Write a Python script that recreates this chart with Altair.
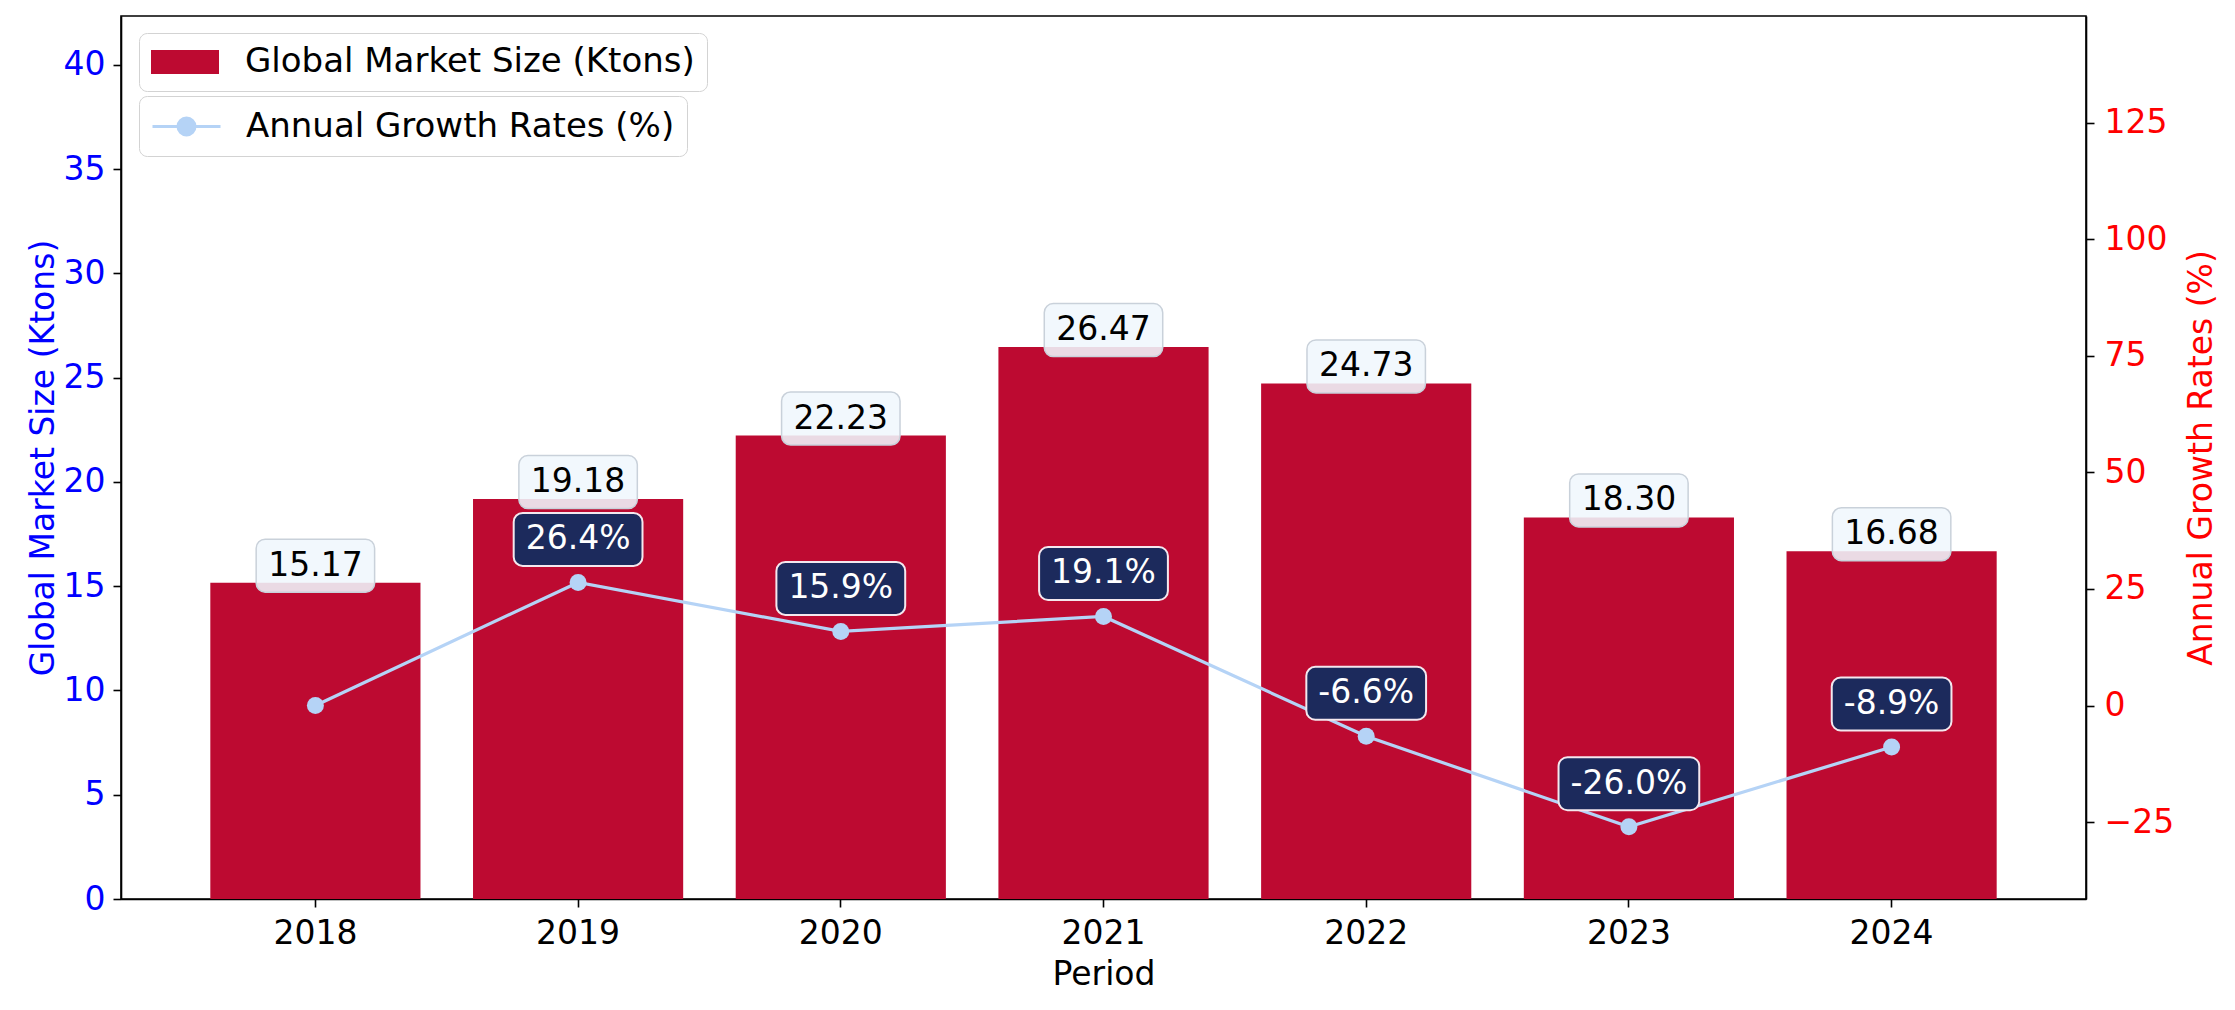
import altair as alt
import pandas as pd

# ---------------- data ----------------
periods = ["2018", "2019", "2020", "2021", "2022", "2023", "2024"]
market_size = [15.17, 19.18, 22.23, 26.47, 24.73, 18.30, 16.68]
growth_rate = [0.0, 26.4, 15.9, 19.1, -6.6, -26.0, -8.9]
size_labels = ["15.17", "19.18", "22.23", "26.47", "24.73", "18.30", "16.68"]
growth_labels = ["", "26.4%", "15.9%", "19.1%", "-6.6%", "-26.0%", "-8.9%"]

BAR_SERIES = "Global Market Size (Ktons)"
LINE_SERIES = "Annual Growth Rates (%)"

# ---------------- style ----------------
FONT = "DejaVu Sans"
FS = 33
LFS = 34
RED = "#bd0a31"
BLUE_LINE = "#b5d3f6"
NAVY = "#1c2a5c"
BOX_FILL = "#f0f7fd"
BOX_EDGE = "#c9d1da"

# DejaVu Sans advance widths (em) for label boxes
CW = {"0": .636, "1": .636, "2": .636, "3": .636, "4": .636, "5": .636,
      "6": .636, "7": .636, "8": .636, "9": .636, ".": .318, "%": .950, "-": .361}


def text_w(s):
    return sum(CW.get(c, .6) for c in s) * FS


def rrect(w, h, r):
    # rounded rectangle path in pixel units (used with symbol size 4 -> scale 1)
    a, b = w / 2, h / 2
    return (f"M{-a + r},{-b}H{a - r}A{r},{r} 0 0 1 {a},{-b + r}V{b - r}"
            f"A{r},{r} 0 0 1 {a - r},{b}H{-a + r}A{r},{r} 0 0 1 {-a},{b - r}"
            f"V{-b + r}A{r},{r} 0 0 1 {-a + r},{-b}Z")


BOX_H = 53
PADX = 12
size_box = rrect(text_w("00.00") + 2 * PADX, BOX_H, 9)
g_nonempty = [g for g in growth_labels if g]
g_paths = [rrect(text_w(g) + 2 * PADX, BOX_H, 9) for g in g_nonempty]

# legend symbols (symbolSize 1156 -> scale 17)
LEG_RECT = "M-1,-0.706H3V0.706H-1Z"
LEG_LINE = "M-1,0H3M1.5,0A0.5,0.5 0 1 1 0.5,0A0.5,0.5 0 1 1 1.5,0Z"

df = pd.DataFrame({
    "period": periods,
    "size": market_size,
    "growth": growth_rate,
    "slabel": size_labels,
    "glabel": growth_labels,
    "bar_series": [BAR_SERIES] * len(periods),
    "line_series": [LINE_SERIES] * len(periods),
})

x_enc = alt.X(
    "period:N", sort=periods,
    scale=alt.Scale(paddingInner=0.2, paddingOuter=0.34),
    axis=alt.Axis(title="Period", labelAngle=0, labelFontSize=FS, titleFontSize=FS,
                  labelColor="black", titleColor="black", tickColor="black",
                  domainColor="black", tickSize=8, tickWidth=1.6, domainWidth=1.6,
                  labelPadding=10, titlePadding=8, titleFontWeight="normal",
                  labelFont=FONT, titleFont=FONT),
)

y_left = alt.Y(
    "size:Q",
    scale=alt.Scale(domain=[0, 42.35], nice=False, zero=False),
    axis=alt.Axis(title=BAR_SERIES, values=[0, 5, 10, 15, 20, 25, 30, 35, 40],
                  labelColor="#0000ff", titleColor="#0000ff", tickColor="black",
                  domainColor="black", labelFontSize=FS, titleFontSize=FS,
                  tickSize=8, tickWidth=1.6, domainWidth=1.6, labelPadding=8,
                  titlePadding=3, grid=False, titleFontWeight="normal",
                  labelFont=FONT, titleFont=FONT),
)

y_right = alt.Y(
    "growth:Q",
    scale=alt.Scale(domain=[-41.5, 147.9], nice=False, zero=False),
    axis=alt.Axis(title=LINE_SERIES, orient="right",
                  values=[-25, 0, 25, 50, 75, 100, 125],
                  labelColor="#ff0000", titleColor="#ff0000", tickColor="black",
                  domainColor="black", labelFontSize=FS, titleFontSize=FS,
                  tickSize=8, tickWidth=1.6, domainWidth=1.6, labelPadding=10,
                  titlePadding=45, titleAngle=270, grid=False,
                  titleFontWeight="normal", labelFont=FONT, titleFont=FONT),
)

leg_common = dict(title=None, orient="none", legendX=18, labelFontSize=LFS,
                  labelFont=FONT, labelColor="black", padding=12, cornerRadius=8,
                  strokeColor="#d3d3d3", fillColor="rgba(255,255,255,0.85)",
                  labelLimit=1000, symbolSize=1156)

bars = alt.Chart().mark_bar().encode(
    x=x_enc, y=y_left,
    color=alt.Color("bar_series:N",
                    scale=alt.Scale(domain=[BAR_SERIES], range=[RED]),
                    legend=alt.Legend(legendY=17, symbolType=LEG_RECT,
                                      symbolStrokeWidth=0, labelOffset=60,
                                      **leg_common)),
)

bar_boxes = alt.Chart().mark_point(
    shape=size_box, size=4, filled=True, fill=BOX_FILL, fillOpacity=0.88,
    stroke=BOX_EDGE, strokeWidth=1.5, yOffset=-17, opacity=1,
).encode(x=x_enc, y=y_left)

bar_text = alt.Chart().mark_text(
    font=FONT, fontSize=FS, color="black", baseline="middle", yOffset=-17,
).encode(x=x_enc, y=y_left, text="slabel:N")

left = alt.layer(bars, bar_boxes, bar_text)

line = alt.Chart().mark_line(color=BLUE_LINE, strokeWidth=3.2).encode(x=x_enc, y=y_right)

points = alt.Chart().mark_point(filled=True, size=289, opacity=1).encode(
    x=x_enc, y=y_right,
    color=alt.Color("line_series:N",
                    scale=alt.Scale(domain=[LINE_SERIES], range=[BLUE_LINE]),
                    legend=alt.Legend(legendY=80, symbolType=LEG_LINE,
                                      symbolStrokeWidth=3,
                                      symbolStrokeColor=BLUE_LINE,
                                      symbolFillColor=BLUE_LINE,
                                      labelOffset=58, **leg_common)),
)

g_boxes = alt.Chart().mark_point(
    size=4, filled=True, fill=NAVY, fillOpacity=1, stroke="#f4e8ee",
    strokeWidth=2, yOffset=-43, opacity=1,
).encode(
    x=x_enc, y=y_right,
    shape=alt.Shape("glabel:N", scale=alt.Scale(domain=g_nonempty, range=g_paths),
                    legend=None),
).transform_filter("datum.glabel != ''")

g_text = alt.Chart().mark_text(
    font=FONT, fontSize=FS, color="white", baseline="middle", yOffset=-43,
).encode(x=x_enc, y=y_right, text="glabel:N").transform_filter("datum.glabel != ''")

right = alt.layer(line, points, g_boxes, g_text)

chart = alt.layer(left, right, data=df).resolve_scale(
    y="independent", color="independent"
).properties(
    width=1965, height=883,
    padding={"left": 19, "top": 8, "right": 5, "bottom": 5},
).configure(font=FONT).configure_view(stroke="black", strokeWidth=1.6)

chart.save("out.html", embed_options={"renderer": "svg", "actions": False})
